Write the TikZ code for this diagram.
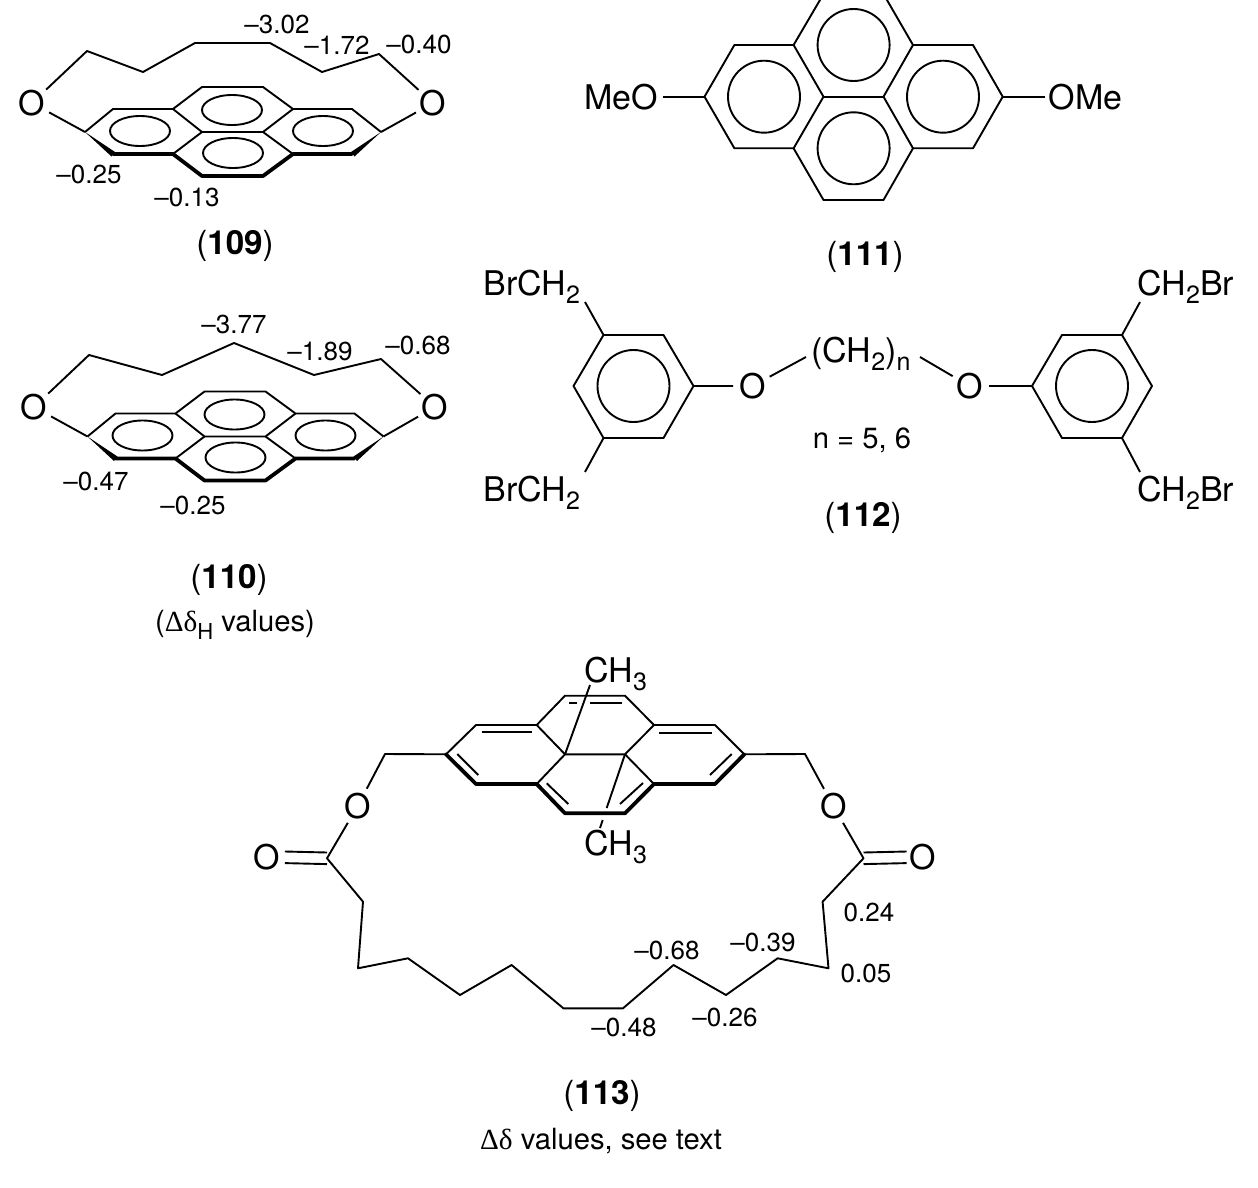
\documentclass[tikz,border=0pt]{standalone}
\usepackage{fontspec}
\setmainfont{TeX Gyre Heros}
\newfontfamily\symfont{Liberation Serif}
\usetikzlibrary{positioning}

\newcommand{\atsub}[1]{\raisebox{-4.2pt}{\fontsize{12.5}{13}\selectfont #1}}
\newcommand{\dd}{{\symfont Δδ}}

\tikzset{bond/.style = {line width=.95pt, line join=round}}
\tikzset{thickbond/.style = {line width=1.9pt, line join=round, line cap=round}}
\tikzset{atom/.style = {shape=circle, inner sep=0pt, outer sep=0pt, minimum size=19.5pt, font=\fontsize{17}{19}\selectfont}}
\tikzset{group/.style = {inner sep=0pt, font=\fontsize{17}{19}\selectfont}}
\tikzset{shift val/.style = {inner sep=0pt, font=\fontsize{13}{15}\selectfont}}
\tikzset{caption/.style = {inner sep=0pt, font=\fontsize{16.6}{19}\selectfont}}
\tikzset{note/.style = {inner sep=0pt, font=\fontsize{14.6}{17}\selectfont}}

% flat pyrene, seen from the edge
\newcommand{\flatpyrene}[3]{
\begin{scope}[shift={(#2,#3)}, name prefix=#1-]
\coordinate (w) at (85,132);
\coordinate (a) at (113,109);
\coordinate (b) at (173,109);
\coordinate (c) at (202,87);
\coordinate (d) at (263,87);
\coordinate (e) at (293,109);
\coordinate (f) at (352,109);
\coordinate (g) at (381,132);
\coordinate (h) at (352,154);
\coordinate (i) at (293,154);
\coordinate (j) at (263,176);
\coordinate (k) at (202,176);
\coordinate (l) at (173,154);
\coordinate (m) at (113,154);
\coordinate (n) at (202,132);
\coordinate (o) at (263,132);
\draw[bond] (w) -- (a) -- (b) -- (c) -- (d) -- (e) -- (f) -- (g);
\draw[bond] (b) -- (n) -- (o) -- (e);
\draw[bond] (l) -- (n);
\draw[bond] (i) -- (o);
\draw[thickbond] (m) -- (l) -- (k) -- (j) -- (i) -- (h);
\fill (w) -- ++(26.5,24.5) -- ++(3.5,-4.5) -- cycle;
\fill (g) -- ++(-26.5,24.5) -- ++(-3.5,-4.5) -- cycle;
\draw[bond] (140,131) ellipse [x radius=30, y radius=15];
\draw[bond] (232,110) ellipse [x radius=30, y radius=15];
\draw[bond] (233,153) ellipse [x radius=30, y radius=15];
\draw[bond] (323,131) ellipse [x radius=30, y radius=15];
\end{scope}
}

% benzene ring of (112)
\newcommand{\arylring}[3]{
\begin{scope}[shift={(#2,#3)}, name prefix=#1-]
\coordinate (e) at (60,0);
\coordinate (ne) at (30,-51);
\coordinate (nw) at (-30,-51);
\coordinate (w) at (-60,0);
\coordinate (sw) at (-30,52);
\coordinate (se) at (30,52);
\draw[bond] (e) -- (ne) -- (nw) -- (w) -- (sw) -- (se) -- cycle;
\draw[bond] (0,0) circle [radius=36];
\end{scope}
}

\begin{document}
\begin{tikzpicture}[x=.5pt, y=-.5pt]
\useasboundingbox (0,0) rectangle (1258,1188);
\clip (0,0) rectangle (1258,1188);

%(109)
\flatpyrene{p}{0}{0}
\node[atom] (p-ol) at (32,103) {O};
\node[atom] (p-or) at (433,103) {O};
\coordinate (p-1) at (87,51);
\coordinate (p-2) at (143,72);
\coordinate (p-3) at (195,43);
\coordinate (p-4) at (270,43);
\coordinate (p-5) at (322,72);
\coordinate (p-6) at (379,54);
\draw[bond] (p-ol) -- (p-1) -- (p-2) -- (p-3) -- (p-4) -- (p-5) -- (p-6) -- (p-or);
\draw[bond] (p-ol) -- (p-w);
\draw[bond] (p-or) -- (p-g);
\node[shift val] (v1) at (277,24) {--3.02};
\node[shift val] (v2) at (337,45) {--1.72};
\node[shift val] (v3) at (419,44) {--0.40};
\node[shift val] (v4) at (89,174) {--0.25};
\node[shift val] (v5) at (187,197) {--0.13};
\node[caption] (c109) at (235,246) {(\textbf{109})};

%(110)
\flatpyrene{q}{2.5}{304.5}
\node[atom] (q-ol) at (34,407) {O};
\node[atom] (q-or) at (435,407) {O};
\coordinate (q-1) at (89,355);
\coordinate (q-2) at (162,375);
\coordinate (q-3) at (234,343);
\coordinate (q-4) at (314,375);
\coordinate (q-5) at (381,359);
\draw[bond] (q-ol) -- (q-1) -- (q-2) -- (q-3) -- (q-4) -- (q-5) -- (q-or);
\draw[bond] (q-ol) -- (q-w);
\draw[bond] (q-or) -- (q-g);
\node[shift val] (v6) at (234,324) {--3.77};
\node[shift val] (v7) at (320,351) {--1.89};
\node[shift val] (v8) at (418,345) {--0.68};
\node[shift val] (v9) at (96,481) {--0.47};
\node[shift val] (v10) at (193,505) {--0.25};
\node[caption] (c110) at (229,580) {(\textbf{110})};
\node[note] (n110) at (235,625) {(\dd\atsub{\fontsize{11}{12}\selectfont H} values)};

%(111)
\coordinate (r-1) at (704.5,96.7);
\coordinate (r-2) at (734.4,45);
\coordinate (r-3) at (793.6,45);
\coordinate (r-4) at (823.5,-6);
\coordinate (r-5) at (883.5,-6);
\coordinate (r-6) at (913,45);
\coordinate (r-7) at (973,45);
\coordinate (r-8) at (1002.7,96.7);
\coordinate (r-9) at (973,148.3);
\coordinate (r-10) at (913,148.3);
\coordinate (r-11) at (883.5,200);
\coordinate (r-12) at (823.5,200);
\coordinate (r-13) at (793.6,148.3);
\coordinate (r-14) at (734.4,148.3);
\coordinate (r-15) at (823.5,96.7);
\coordinate (r-16) at (883.5,96.7);
\draw[bond] (r-1) -- (r-2) -- (r-3) -- (r-4) -- (r-5) -- (r-6) -- (r-7) -- (r-8) -- (r-9) -- (r-10) -- (r-11) -- (r-12) -- (r-13) -- (r-14) -- cycle;
\draw[bond] (r-3) -- (r-15) -- (r-13);
\draw[bond] (r-6) -- (r-16) -- (r-10);
\draw[bond] (r-15) -- (r-16);
\draw[bond] (764,96.7) circle [radius=36];
\draw[bond] (943,96.7) circle [radius=36];
\draw[bond] (853.6,45) circle [radius=36];
\draw[bond] (853.6,148.3) circle [radius=36];
\node[group] (meo) at (621,96.7) {MeO};
\node[group] (ome) at (1085.6,96.7) {OMe};
\coordinate (meo-e) at (662.7,96.7);
\coordinate (ome-w) at (1044.5,96.7);
\draw[bond] (meo-e) -- (r-1);
\draw[bond] (r-8) -- (ome-w);
\node[caption] (c111) at (865,257) {(\textbf{111})};

%(112)
\arylring{s}{633.5}{386}
\arylring{t}{1092}{386}
\node[atom] (s-o) at (752.5,386) {O};
\node[atom] (t-o) at (969.5,386) {O};
\node[group, anchor=base west] (ch2n) at (811,362) {(CH\atsub{2})\atsub{n}};
\coordinate (ch2n-l) at (806,357);
\coordinate (ch2n-r) at (920,357);
\draw[bond] (s-e) -- (s-o) -- (ch2n-l);
\draw[bond] (ch2n-r) -- (t-o) -- (t-w);
\node[group, anchor=base west] (br1) at (483,295) {BrCH\atsub{2}};
\node[group, anchor=base west] (br2) at (483,501) {BrCH\atsub{2}};
\node[group, anchor=base west] (br3) at (1137,295) {CH\atsub{2}Br};
\node[group, anchor=base west] (br4) at (1137,501) {CH\atsub{2}Br};
\coordinate (br1-b) at (585,302);
\coordinate (br2-b) at (585,472);
\coordinate (br3-b) at (1140,302);
\coordinate (br4-b) at (1140,472);
\draw[bond] (br1-b) -- (s-nw);
\draw[bond] (br2-b) -- (s-sw);
\draw[bond] (br3-b) -- (t-ne);
\draw[bond] (br4-b) -- (t-se);
\node[note] (nval) at (862,440) {n = 5, 6};
\node[caption] (c112) at (863,518) {(\textbf{112})};

%(113)
\coordinate (u-1) at (446,754.3);
\coordinate (u-2) at (476,725);
\coordinate (u-3) at (536.7,725);
\coordinate (u-4) at (565,695.7);
\coordinate (u-5) at (625,695.7);
\coordinate (u-6) at (654,725);
\coordinate (u-7) at (715,725);
\coordinate (u-8) at (744.3,754.3);
\coordinate (u-9) at (715,784);
\coordinate (u-10) at (654,784);
\coordinate (u-11) at (625,813.3);
\coordinate (u-12) at (565,813.3);
\coordinate (u-13) at (536.7,784);
\coordinate (u-14) at (476,784);
\coordinate (u-15) at (565,754.3);
\coordinate (u-16) at (625,754.3);
\draw[bond] (u-1) -- (u-2) -- (u-3) -- (u-4) -- (u-5) -- (u-6) -- (u-7) -- (u-8);
\draw[bond] (u-3) -- (u-15) -- (u-16) -- (u-6);
\draw[bond] (u-13) -- (u-15);
\draw[bond] (u-16) -- (u-10);
\draw[thickbond] (u-1) -- (u-14) -- (u-13) -- (u-12) -- (u-11) -- (u-10) -- (u-9) -- (u-8);
%inner lines of the double bonds
\draw[bond] (481.7,732.3) -- (531.7,732.3);
\draw[bond] (569,703) -- (577,703);
\draw[bond] (590,703) -- (621.7,703);
\draw[bond] (659,733.3) -- (711.7,733.3);
\draw[bond] (457.3,754) -- (478.3,775);
\draw[bond] (731.7,754) -- (710,775);
\draw[bond] (546.7,783.3) -- (568.3,804);
\draw[bond] (643,783) -- (620,804);
%methyls
\node[group, anchor=base west] (me1) at (584,682) {CH\atsub{3}};
\node[group, anchor=base west] (me2) at (584,855) {CH\atsub{3}};
\coordinate (me1-b) at (590,685);
\coordinate (me2-a) at (606.7,808);
\coordinate (me2-b) at (602.7,820);
\coordinate (me2-c) at (600,828);
\draw[bond] (u-15) -- (me1-b);
\draw[bond] (u-16) -- (me2-a);
\draw[bond] (me2-b) -- (me2-c);
%ester arms and the chain
\node[atom] (ol1) at (357.7,806) {O};
\node[atom] (ol2) at (266.8,857.3) {O};
\node[atom] (or1) at (833.3,806) {O};
\node[atom] (or2) at (922.3,857.3) {O};
\coordinate (al) at (385,754);
\coordinate (ar) at (805,754);
\coordinate (cl) at (327,858.3);
\coordinate (cr) at (863.5,858.3);
\coordinate (h-1) at (363,901.7);
\coordinate (h-2) at (358,968.3);
\coordinate (h-3) at (408,958.3);
\coordinate (h-4) at (460,995);
\coordinate (h-5) at (511.6,965);
\coordinate (h-6) at (563.4,1008.3);
\coordinate (h-7) at (623,1008.3);
\coordinate (h-8) at (673.5,965);
\coordinate (h-9) at (726,995);
\coordinate (h-10) at (777.6,958.3);
\coordinate (h-11) at (828.5,968.3);
\coordinate (h-12) at (822.6,901.7);
\draw[bond] (u-1) -- (al) -- (ol1) -- (cl) -- (h-1) -- (h-2) -- (h-3) -- (h-4) -- (h-5) -- (h-6) -- (h-7) -- (h-8) -- (h-9) -- (h-10) -- (h-11) -- (h-12) -- (cr) -- (or1) -- (ar) -- (u-8);
\draw[bond] ([yshift=2.9pt]cl) -- ([xshift=9pt,yshift=2.9pt]ol2.center);
\draw[bond] ([yshift=-2.9pt]cl) -- ([xshift=9pt,yshift=-2.9pt]ol2.center);
\draw[bond] ([yshift=2.9pt]cr) -- ([xshift=-7.8pt,yshift=2.9pt]or2.center);
\draw[bond] ([yshift=-2.9pt]cr) -- ([xshift=-7.8pt,yshift=-2.9pt]or2.center);
\node[shift val] (v11) at (869,912) {0.24};
\node[shift val] (v12) at (866,973) {0.05};
\node[shift val] (v13) at (763,942) {--0.39};
\node[shift val] (v14) at (667,950) {--0.68};
\node[shift val] (v15) at (624,1027) {--0.48};
\node[shift val] (v16) at (725,1017) {--0.26};
\node[caption] (c113) at (602,1096) {(\textbf{113})};
\node[note] (n113) at (601,1141) {\dd{} values, see text};

\end{tikzpicture}
\end{document}
